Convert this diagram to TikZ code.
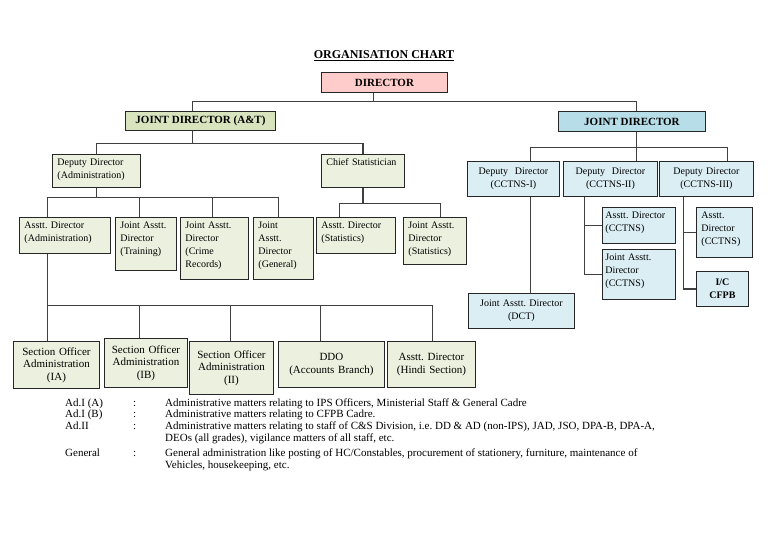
\documentclass[tikz,border=0pt]{standalone}
\usepackage{fontspec}
\setmainfont{Liberation Serif}
\usepackage{tikz}
\definecolor{dirpink}{RGB}{255,204,204}
\definecolor{darkgrn}{RGB}{215,228,189}
\definecolor{litegrn}{RGB}{235,241,222}
\definecolor{darkblu}{RGB}{183,222,232}
\definecolor{liteblu}{RGB}{219,238,244}
\frenchspacing

\begin{document}
\begin{tikzpicture}[x=1pt,y=-1pt,
  box/.style={draw=black!85,line width=0.9pt,anchor=north west,inner xsep=5pt,inner ysep=4pt,font=\fontsize{10}{13}\selectfont},
  tl/.style={box,align=left,text height=7pt},
  ctr/.style={box,align=center},
  low/.style={ctr,font=\fontsize{11}{12.5}\selectfont},
  head/.style={box,align=center,inner ysep=0pt,font=\fontsize{11}{12}\bfseries},
  grn/.style={fill=litegrn},
  blu/.style={fill=liteblu},
  link/.style={draw=black!75,line width=1.1pt},
  note/.style={anchor=base west,inner sep=0pt,font=\fontsize{11}{12}\selectfont}]
  \useasboundingbox (0,0) rectangle (768,543);

  \node[font=\fontsize{12}{13}\bfseries] (title) at (384,56) {\underline{ORGANISATION CHART}};

  \node[head,fill=dirpink,minimum width=126pt,minimum height=20pt] (dir) at (321,72) {DIRECTOR};
  \node[head,fill=darkgrn,minimum width=150pt,minimum height=19pt] (jda) at (125,111) {JOINT DIRECTOR (A\&T)};
  \node[head,fill=darkblu,minimum width=147pt,minimum height=20pt] (jd) at (558,111) {JOINT DIRECTOR};

  \node[tl,grn,text width=78pt,text depth=18pt] (ddadm) at (52,154) {Deputy Director\\(Administration)};
  \node[tl,grn,text width=73pt,text depth=18pt] (chst) at (321,154) {Chief Statistician};

  \node[tl,grn,text width=81pt,text depth=21pt] (adadm) at (19,217) {Asstt. Director\\(Administration)};
  \node[tl,grn,text width=51pt,text depth=38pt] (jadtr) at (115,217) {Joint Asstt.\\Director\\(Training)};
  \node[tl,grn,text width=58pt,text depth=47pt] (jadcr) at (180,217) {Joint Asstt.\\Director\\(Crime\\Records)};
  \node[tl,grn,text width=50pt,text depth=47pt] (jadgen) at (253,217) {Joint\\Asstt.\\Director\\(General)};
  \node[tl,grn,text width=69pt,text depth=21pt] (adst) at (316,217) {Asstt. Director\\(Statistics)};
  \node[tl,grn,text width=53pt,text depth=32pt] (jadst) at (403,217) {Joint Asstt.\\Director\\(Statistics)};

  \node[ctr,blu,text width=82pt,minimum height=35pt] (dd1) at (467,161) {Deputy~ Director\\(CCTNS-I)};
  \node[ctr,blu,text width=84pt,minimum height=35pt] (dd2) at (563,161) {Deputy~ Director\\(CCTNS-II)};
  \node[ctr,blu,text width=84pt,minimum height=35pt] (dd3) at (659,161) {Deputy Director\\(CCTNS-III)};

  \node[tl,blu,inner xsep=3pt,text width=67pt,text depth=21pt] (adc2) at (602,207) {Asstt. Director\\(CCTNS)};
  \node[tl,blu,inner xsep=3pt,text width=67pt,text depth=35pt] (jadc2) at (602,249) {Joint Asstt.\\Director\\(CCTNS)};
  \node[tl,blu,text width=46pt,text depth=35pt] (adc3) at (696,207) {Asstt.\\Director\\(CCTNS)};
  \node[ctr,blu,text width=42pt,minimum height=35pt,font=\fontsize{10}{13}\bfseries] (icc) at (696,271) {I/C\\CFPB};
  \node[ctr,blu,text width=96pt,minimum height=35pt] (jaddct) at (468,293) {Joint Asstt. Director\\(DCT)};

  \node[low,grn,text width=76pt,minimum height=47pt] (soia) at (13,341) {Section Officer\\Administration\\(IA)};
  \node[low,grn,text width=73pt,minimum height=49pt] (soib) at (104,338) {Section Officer\\Administration\\(IB)};
  \node[low,grn,text width=74pt,minimum height=53pt] (soii) at (189,341) {Section Officer\\Administration\\(II)};
  \node[low,grn,text width=96pt,minimum height=46pt] (ddo) at (278,341) {DDO\\(Accounts Branch)};
  \node[low,grn,text width=78pt,minimum height=46pt] (adhin) at (387,341) {Asstt. Director\\(Hindi Section)};

  \draw[link] ([xshift=-11pt]dir.south) -- ++(0,9) -| ([xshift=-8pt]jda.north);
  \draw[link] ([xshift=-11pt]dir.south) -- ++(0,9) -| ([xshift=4.5pt]jd.north);

  \draw[link] ([xshift=-8pt]jda.south) -- ++(0,13) -| (ddadm.north);
  \draw[link] ([xshift=-8pt]jda.south) -- ++(0,13) -| (chst.north);

  \draw[link] ([xshift=4.5pt]jd.south) -- ++(0,16) -| ([xshift=17pt]dd1.north);
  \draw[link] ([xshift=4.5pt]jd.south) -- ([xshift=26pt]dd2.north);
  \draw[link] ([xshift=4.5pt]jd.south) -- ++(0,16) -| ([xshift=21pt]dd3.north);

  \draw[link] (ddadm.south) -- ++(0,10) -| ([xshift=-17.5pt]adadm.north);
  \draw[link] (ddadm.south) -- ++(0,10) -| ([xshift=-6.5pt]jadtr.north);
  \draw[link] (ddadm.south) -- ++(0,10) -| ([xshift=-2pt]jadcr.north);
  \draw[link] (ddadm.south) -- ++(0,10) -| ([xshift=-5pt]jadgen.north);

  \draw[link] (chst.south) -- ++(0,16) -| ([xshift=-16.5pt]adst.north);
  \draw[link] (chst.south) -- ++(0,16) -| ([xshift=5.5pt]jadst.north);

  \draw[link] ([xshift=-17.5pt]adadm.south) -- ++(0,52) -| ([xshift=-9pt]soia.north);
  \draw[link] ([xshift=-17.5pt]adadm.south) -- ++(0,52) -| ([xshift=-6.5pt]soib.north);
  \draw[link] ([xshift=-17.5pt]adadm.south) -- ++(0,52) -| ([xshift=-1pt]soii.north);
  \draw[link] ([xshift=-17.5pt]adadm.south) -- ++(0,52) -| ([xshift=-11pt]ddo.north);
  \draw[link] ([xshift=-17.5pt]adadm.south) -- ++(0,52) -| ([xshift=1pt]adhin.north);

  \draw[link] ([xshift=17pt]dd1.south) -- ([xshift=9pt]jaddct.north);
  \draw[link] ([xshift=-26pt]dd2.south) |- (adc2.west);
  \draw[link] ([xshift=-26pt]dd2.south) |- (jadc2.west);
  \draw[link] ([xshift=-23pt]dd3.south) |- (adc3.west);
  \draw[link] ([xshift=-23pt]dd3.south) |- (icc.west);

  \node[note] (l1) at (65,406.5) {Ad.I (A)};
  \node[note] (c1) at (133,406.5) {:};
  \node[note] (t1) at (165,406.5) {Administrative matters relating to IPS Officers, Ministerial Staff \& General Cadre};
  \node[note] (l2) at (65,417.5) {Ad.I (B)};
  \node[note] (c2) at (133,417.5) {:};
  \node[note] (t2) at (165,417.5) {Administrative matters relating to CFPB Cadre.};
  \node[note] (l3) at (65,429.5) {Ad.II};
  \node[note] (c3) at (133,429.5) {:};
  \node[note] (t3) at (165,429.5) {Administrative matters relating to staff of C\&S Division, i.e. DD \& AD (non-IPS), JAD, JSO, DPA-B, DPA-A,};
  \node[note] (t3b) at (165,441.5) {DEOs (all grades), vigilance matters of all staff, etc.};
  \node[note] (l4) at (65,456.5) {General};
  \node[note] (c4) at (133,456.5) {:};
  \node[note] (t4) at (165,456.5) {General administration like posting of HC/Constables, procurement of stationery, furniture, maintenance of};
  \node[note] (t4b) at (165,468.5) {Vehicles, housekeeping, etc.};
\end{tikzpicture}
\end{document}
